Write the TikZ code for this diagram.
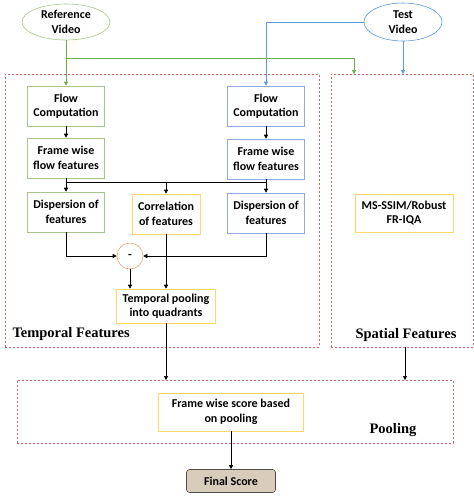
\documentclass[tikz,border=0pt]{standalone}
\usepackage{fontspec}
\setmainfont{Carlito}
\newfontfamily\labelfont{Liberation Serif}
\usetikzlibrary{arrows.meta,shapes.geometric}
\definecolor{refgreen}{HTML}{70AD47}
\definecolor{boxgreen}{HTML}{A9C48A}
\definecolor{testblue}{HTML}{5B9BD5}
\definecolor{boxblue}{HTML}{8EAADB}
\definecolor{boxyellow}{HTML}{FFD966}
\definecolor{regionred}{HTML}{D9646A}
\definecolor{minusorange}{HTML}{E2A77B}
\definecolor{finalfill}{HTML}{D8CDBB}
\begin{document}
\begin{tikzpicture}[x=1pt, y=-1pt, font=\bfseries\fontsize{12}{14.5}\selectfont, >={Triangle[length=4pt,width=4pt]}]
		\tikzstyle{box}=[draw, rectangle, align=center, minimum width=77, minimum height=40, inner sep=1pt, line width=0.6pt]
		\tikzstyle{video}=[draw, ellipse, align=center, inner sep=0pt, line width=0.6pt]
		\tikzstyle{region}=[draw=regionred, rectangle, dash pattern=on 2pt off 2pt, line width=0.6pt]
		\tikzstyle{regionlabel}=[font=\labelfont\bfseries\fontsize{14.5}{16}\selectfont]
		\useasboundingbox (0,0) rectangle (474,499);
		% regions
		\node[region, minimum width=314, minimum height=273](temporal)at(162,210.5){};
		\node[region, minimum width=142, minimum height=273](spatial)at(402,210.5){};
		\node[region, minimum width=436, minimum height=63](pooling)at(235,411.5){};
		\node[regionlabel, anchor=west](tlabel)at(9,334){Temporal Features};
		\node[regionlabel](slabel)at(406,335){Spatial Features};
		\node[regionlabel](plabel)at(393,430){Pooling};
		% inputs
		\node[video, draw=boxgreen, minimum width=88, minimum height=36](ref)at(66,22){Reference\\Video};
		\node[video, draw=testblue, minimum width=78, minimum height=38](test)at(403,22){Test\\Video};
		% temporal branch
		\node[box, draw=boxgreen](fcg)at(66,106){Flow\\Computation};
		\node[box, draw=boxblue](fcb)at(266,106){Flow\\Computation};
		\node[box, draw=boxgreen](fwg)at(66,158){Frame wise\\flow features};
		\node[box, draw=boxblue](fwb)at(266,159){Frame wise\\flow features};
		\node[box, draw=boxgreen](dg)at(66,212){Dispersion of\\features};
		\node[box, draw=boxyellow, minimum width=68](cor)at(166,214){Correlation\\of features};
		\node[box, draw=boxblue](db)at(266,213){Dispersion of\\features};
		\node[draw=minusorange, circle, minimum size=26, inner sep=0pt, line width=0.6pt](minus)at(130,256){-};
		\node[box, draw=boxyellow, minimum width=99, minimum height=34](tp)at(166,306){Temporal pooling\\into quadrants};
		% spatial branch
		\node[box, draw=boxyellow, minimum width=98, minimum height=38](ssim)at(404,213){MS-SSIM/Robust\\FR-IQA};
		% pooling
		\node[box, draw=boxyellow, minimum width=145, minimum height=38](score)at(231,412){Frame wise score based\\on pooling};
		\node[draw=black!70, fill=finalfill, rounded corners=3pt, minimum width=89, minimum height=23, inner sep=1pt, line width=0.6pt](final)at(231,481){Final Score};
		% helper points
		\coordinate(gsplit)at(66,58);
		\coordinate(sgreen)at(354,74);
		\coordinate(sblue)at(403,74);
		\coordinate(fsplit)at(166,182);
		\coordinate(tpdown)at(166,380);
		\coordinate(spdown)at(405,380);
		% input connectors
		\draw[->, refgreen, line width=0.6pt] (ref) -- (fcg);
		\draw[->, refgreen, line width=0.6pt] (gsplit) -| (sgreen);
		\draw[->, testblue, line width=0.6pt] (test.west) -| (fcb);
		\draw[->, testblue, line width=0.6pt] (test) -- (sblue);
		% temporal connectors
		\path[->, line width=0.6pt] (fcg) edge (fwg)
		(fcb) edge (fwb)
		(fwg) edge (dg)
		(fwb) edge (db)
		(fsplit) edge (cor);
		\draw[line width=0.6pt] (fwg.south |- fsplit) -- (fwb.south |- fsplit);
		\draw[->, line width=0.6pt] (dg) |- (minus);
		\draw[->, line width=0.6pt] (db) |- (minus);
		\draw[->, line width=0.6pt] (minus) -- (minus |- tp.north);
		\draw[->, line width=0.6pt] (cor) -- (tp);
		% pooling connectors
		\draw[->, line width=0.6pt] (tp) -- (tpdown);
		\draw[->, line width=0.6pt] (spatial.south -| spdown) -- (spdown);
		\draw[->, line width=0.6pt] (score) -- (final);
\end{tikzpicture}
\end{document}
